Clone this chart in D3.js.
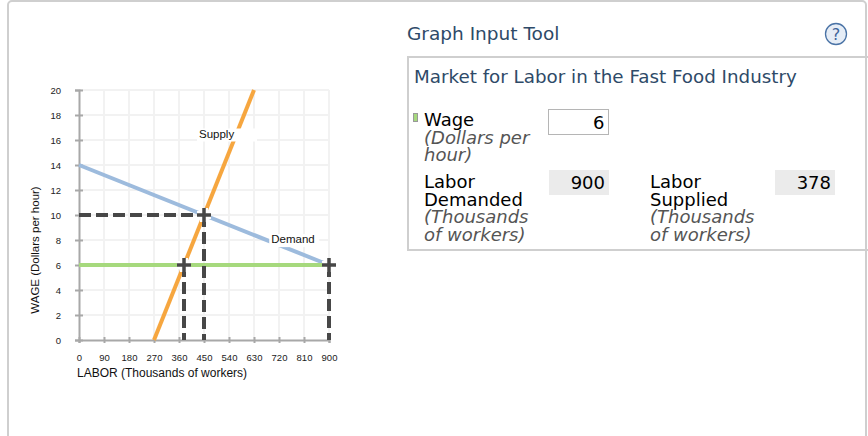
<!DOCTYPE html>
<html>
<head>
<meta charset="utf-8">
<script src="https://cdn.jsdelivr.net/npm/d3@7"></script>
<style>
  body { margin: 0; background: #fff; }
  svg { display: block; }
</style>
</head>
<body>
<svg width="868" height="436"></svg>
<script>
// chart data
var laborTicks = [0, 90, 180, 270, 360, 450, 540, 630, 720, 810, 900];
var wageTicks = [0, 2, 4, 6, 8, 10, 12, 14, 16, 18, 20];
var supplyPoints = [[270, 0], [630, 20]];
var demandPoints = [[0, 14], [900, 6]];
var equilibrium = [450, 10];
var wage = 6;
var laborDemanded = 900;
var laborSupplied = 378;

var svg = d3.select("svg");

// outer frame
svg.append("rect")
    .attr("x", 8).attr("y", 1)
    .attr("width", 858).attr("height", 460)
    .attr("rx", 4)
    .attr("fill", "none")
    .attr("stroke", "#cfcfcf")
    .attr("stroke-width", 2);

var x = d3.scaleLinear().domain([0, 900]).range([79, 329]);
var y = d3.scaleLinear().domain([0, 20]).range([340, 90]);

var plot = svg.append("g");
var arial = "Liberation Sans, Arial, sans-serif";

// grid
plot.append("g").selectAll("line").data(laborTicks.slice(1)).enter().append("line")
    .attr("x1", function(d) { return x(d); }).attr("x2", function(d) { return x(d); })
    .attr("y1", y(0)).attr("y2", y(20))
    .attr("stroke", "#f2f2f2").attr("stroke-width", 2);
plot.append("g").selectAll("line").data(wageTicks.slice(1)).enter().append("line")
    .attr("x1", x(0)).attr("x2", x(900))
    .attr("y1", function(d) { return y(d); }).attr("y2", function(d) { return y(d); })
    .attr("stroke", "#f2f2f2").attr("stroke-width", 2);

// axes
var xAxis = plot.append("g")
    .attr("transform", "translate(0," + y(0) + ")")
    .call(d3.axisBottom(x).tickValues(laborTicks).tickSize(3).tickPadding(11));
var yAxis = plot.append("g")
    .attr("transform", "translate(" + x(0) + ",0)")
    .call(d3.axisLeft(y).tickValues(wageTicks).tickSize(4).tickPadding(14));

[xAxis, yAxis].forEach(function(a) {
  a.select(".domain").attr("stroke", "#a8a8a8").attr("stroke-width", 2);
  a.selectAll(".tick line").attr("stroke", "#a8a8a8").attr("stroke-width", 2);
  a.selectAll(".tick text")
      .attr("fill", "#222")
      .attr("font-family", arial)
      .attr("font-size", 9.5);
});
// ticks cross the axis
xAxis.selectAll(".tick line").attr("y1", -3);
yAxis.selectAll(".tick line").attr("x1", 4);

// axis titles
plot.append("text")
    .attr("x", 77).attr("y", 377)
    .attr("font-family", arial)
    .attr("font-size", 12)
    .attr("fill", "#111")
    .text("LABOR (Thousands of workers)");
plot.append("text")
    .attr("transform", "translate(39,250) rotate(-90)")
    .attr("text-anchor", "middle")
    .attr("font-family", arial)
    .attr("font-size", 11.5)
    .attr("fill", "#111")
    .text("WAGE (Dollars per hour)");

var line = d3.line().x(function(d) { return x(d[0]); }).y(function(d) { return y(d[1]); });

// demand and supply curves
plot.append("path").datum(demandPoints)
    .attr("d", line).attr("fill", "none")
    .attr("stroke", "#9dbbdd").attr("stroke-width", 4);
plot.append("path").datum(supplyPoints)
    .attr("d", line).attr("fill", "none")
    .attr("stroke", "#f6a63f").attr("stroke-width", 4);

// wage line
plot.append("path").datum([[0, wage], [laborDemanded, wage]])
    .attr("d", line).attr("fill", "none")
    .attr("stroke", "#a6d97d").attr("stroke-width", 4);

// dashed guides
var dash = "12,5";
function guide(pts) {
  plot.append("path").datum(pts)
      .attr("d", line).attr("fill", "none")
      .attr("stroke", "#474747").attr("stroke-width", 4)
      .attr("stroke-dasharray", dash);
}
guide([[0, equilibrium[1]], equilibrium]);
guide([equilibrium, [equilibrium[0], 0]]);
guide([[laborSupplied, wage], [laborSupplied, 0]]);
guide([[laborDemanded, wage], [laborDemanded, 0]]);

// curve labels with white backing
function label(txt, lx, ly, bw) {
  plot.append("rect")
      .attr("x", lx - 2).attr("y", ly - 9)
      .attr("width", bw).attr("height", 13)
      .attr("fill", "#fff");
  plot.append("text")
      .attr("x", lx).attr("y", ly)
      .attr("font-family", arial)
      .attr("font-size", 11.5)
      .attr("fill", "#111")
      .text(txt);
}
label("Supply", x(432), y(16.2), 60);
label("Demand", x(692), y(7.75), 50);

// plus markers
var markers = [equilibrium, [laborSupplied, wage], [laborDemanded, wage]];
var plusPath = "M-7,0H7M0,-7V7";
plot.append("g").selectAll("path.halo").data(markers).enter().append("path")
    .attr("transform", function(d) { return "translate(" + x(d[0]) + "," + y(d[1]) + ")"; })
    .attr("d", plusPath)
    .attr("stroke", "#fff").attr("stroke-width", 8).attr("fill", "none");
plot.append("g").selectAll("path.plus").data(markers).enter().append("path")
    .attr("transform", function(d) { return "translate(" + x(d[0]) + "," + y(d[1]) + ")"; })
    .attr("d", plusPath)
    .attr("stroke", "#474747").attr("stroke-width", 3.5).attr("fill", "none");

// ---- Graph Input Tool panel ----
var font = "DejaVu Sans, Verdana, sans-serif";
var panel = svg.append("g").attr("font-family", font);

panel.append("text")
    .attr("x", 407).attr("y", 40)
    .attr("font-size", 18.5).attr("fill", "#2e4a68")
    .text("Graph Input Tool");

panel.append("circle")
    .attr("cx", 836).attr("cy", 34).attr("r", 10.5)
    .attr("fill", "#e6edf6").attr("stroke", "#4a73a6").attr("stroke-width", 1.3);
panel.append("text")
    .attr("x", 836).attr("y", 40)
    .attr("text-anchor", "middle")
    .attr("font-size", 16).attr("fill", "#3e6499")
    .text("?");

panel.append("rect")
    .attr("x", 408).attr("y", 57)
    .attr("width", 470).attr("height", 193)
    .attr("fill", "none").attr("stroke", "#cfcfcf").attr("stroke-width", 2);

panel.append("text")
    .attr("x", 414).attr("y", 83)
    .attr("font-size", 18.3).attr("fill", "#2e4a68")
    .text("Market for Labor in the Fast Food Industry");

// legend swatch for wage
panel.append("rect")
    .attr("x", 413.5).attr("y", 113.5).attr("width", 4).attr("height", 8)
    .attr("fill", "#a6d97d").attr("stroke", "#999").attr("stroke-width", 1);

function block(lx, ly, lines, italics) {
  var t = panel.append("g");
  lines.forEach(function(s, i) {
    var plain = i < lines.length - italics;
    t.append("text")
        .attr("x", lx).attr("y", ly + i * 17.5)
        .attr("font-size", 18)
        .attr("fill", plain ? "#000" : "#555")
        .attr("font-style", plain ? "normal" : "italic")
        .text(s);
  });
}
block(424, 126, ["Wage", "(Dollars per", "hour)"], 2);
block(424, 188, ["Labor", "Demanded", "(Thousands", "of workers)"], 2);
block(650, 188, ["Labor", "Supplied", "(Thousands", "of workers)"], 2);

function valueBox(bx, by, v, editable) {
  panel.append("rect")
      .attr("x", bx).attr("y", by).attr("width", 60).attr("height", 25)
      .attr("fill", editable ? "#fff" : "#ebebeb")
      .attr("stroke", editable ? "#b5b5b5" : "none");
  panel.append("text")
      .attr("x", bx + 56).attr("y", by + 19)
      .attr("text-anchor", "end")
      .attr("font-size", 18).attr("fill", "#000")
      .text(v);
}
valueBox(548.5, 109.5, wage, true);
valueBox(549, 170, laborDemanded, false);
valueBox(775, 170, laborSupplied, false);
</script>
</body>
</html>
